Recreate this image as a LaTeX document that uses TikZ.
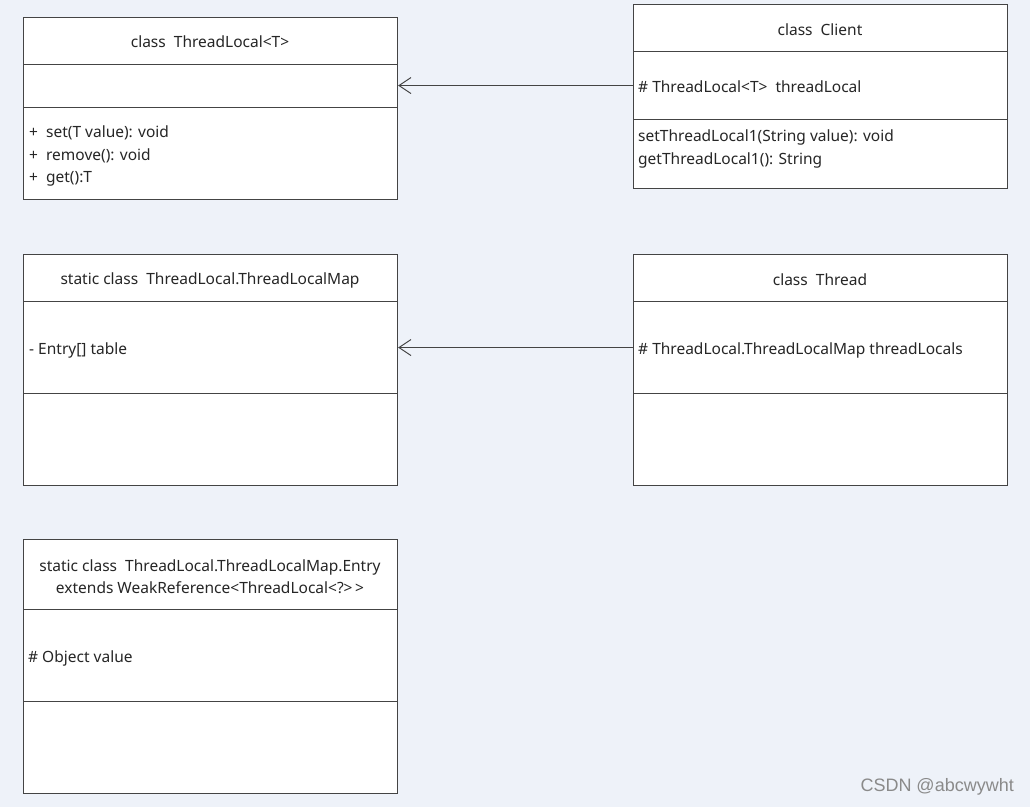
\documentclass[tikz,border=0pt]{standalone}
\usepackage{fontspec}
\setmainfont{Noto Sans}
\newfontfamily\wmfont{Liberation Sans}
\usetikzlibrary{arrows.meta}
\definecolor{bg}{HTML}{EEF2F9}
\definecolor{bd}{HTML}{444444}
\definecolor{wm}{HTML}{8A8A8A}
\tikzset{
  comp/.style={draw=bd, line width=1.1pt, fill=white, anchor=north west, inner sep=0pt},
  ttl/.style={font=\fontsize{15.5}{22}\selectfont, text=black!85, align=center, inner sep=0pt},
  itm/.style={font=\fontsize{15.5}{18}\selectfont, text=black!85, anchor=west, inner sep=0pt},
  assoc/.style={draw=bd, line width=1pt, -{Straight Barb[length=12pt,width=16pt,line width=1pt]}},
}
\begin{document}
\begin{tikzpicture}[x=1pt,y=-1pt]
\fill[bg] (0,0) rectangle (1030,807);
\useasboundingbox (0,0) rectangle (1030,807);
% ThreadLocal<T>
\node[comp, minimum width=374pt, minimum height=47pt] (tlT) at (23,17) {};
\node[comp, minimum width=374pt, minimum height=43pt] (tlA) at (23,64) {};
\node[comp, minimum width=374pt, minimum height=92pt] (tlM) at (23,107) {};
\node[ttl] (tlTt) at (210,42) {class\ \ ThreadLocal<T>};
\node[itm] (tlM1) at (29,133) {+\ \ set(T value): void};
\node[itm] (tlM2) at (29,156) {+\ \ remove(): void};
\node[itm] (tlM3) at (29,179) {+\ \ get():T};
% Client
\node[comp, minimum width=374pt, minimum height=47pt] (clT) at (633,4) {};
\node[comp, minimum width=374pt, minimum height=68pt] (clA) at (633,51) {};
\node[comp, minimum width=374pt, minimum height=69pt] (clM) at (633,119) {};
\node[ttl] (clTt) at (820,30) {class\ \ Client};
\node[itm] (clA1) at (638,87) {\#\ ThreadLocal<T>\ \ threadLocal};
\node[itm] (clM1) at (638,137) {setThreadLocal1(String value): void};
\node[itm] (clM2) at (638,160) {getThreadLocal1(): String};
% ThreadLocalMap
\node[comp, minimum width=374pt, minimum height=47pt] (mpT) at (23,254) {};
\node[comp, minimum width=374pt, minimum height=92pt] (mpA) at (23,301) {};
\node[comp, minimum width=374pt, minimum height=92pt] (mpM) at (23,393) {};
\node[ttl] (mpTt) at (210,280) {static class\ \ ThreadLocal.ThreadLocalMap};
\node[itm] (mpA1) at (29,350) {-\ Entry[] table};
% Thread
\node[comp, minimum width=374pt, minimum height=47pt] (thT) at (633,254) {};
\node[comp, minimum width=374pt, minimum height=92pt] (thA) at (633,301) {};
\node[comp, minimum width=374pt, minimum height=92pt] (thM) at (633,393) {};
\node[ttl] (thTt) at (820,280) {class\ \ Thread};
\node[itm] (thA1) at (638,350) {\#\ ThreadLocal.ThreadLocalMap threadLocals};
% Entry
\node[comp, minimum width=374pt, minimum height=70pt] (enT) at (23,539) {};
\node[comp, minimum width=374pt, minimum height=92pt] (enA) at (23,609) {};
\node[comp, minimum width=374pt, minimum height=92pt] (enM) at (23,701) {};
\node[ttl] (enTt) at (210,577) {static class\ \ ThreadLocal.ThreadLocalMap.Entry\\extends WeakReference<ThreadLocal<?>\,>};
\node[itm] (enA1) at (28,658) {\#\ Object value};
% associations
\draw[assoc] (clA.west) -- (tlA.east |- clA.west);
\draw[assoc] (thA.west) -- (mpA.east);
% watermark
\node[font=\fontsize{18}{21}\selectfont\wmfont, text=wm, anchor=east, inner sep=0pt] (wmk) at (1014,787) {CSDN @abcwywht};
\end{tikzpicture}
\end{document}
